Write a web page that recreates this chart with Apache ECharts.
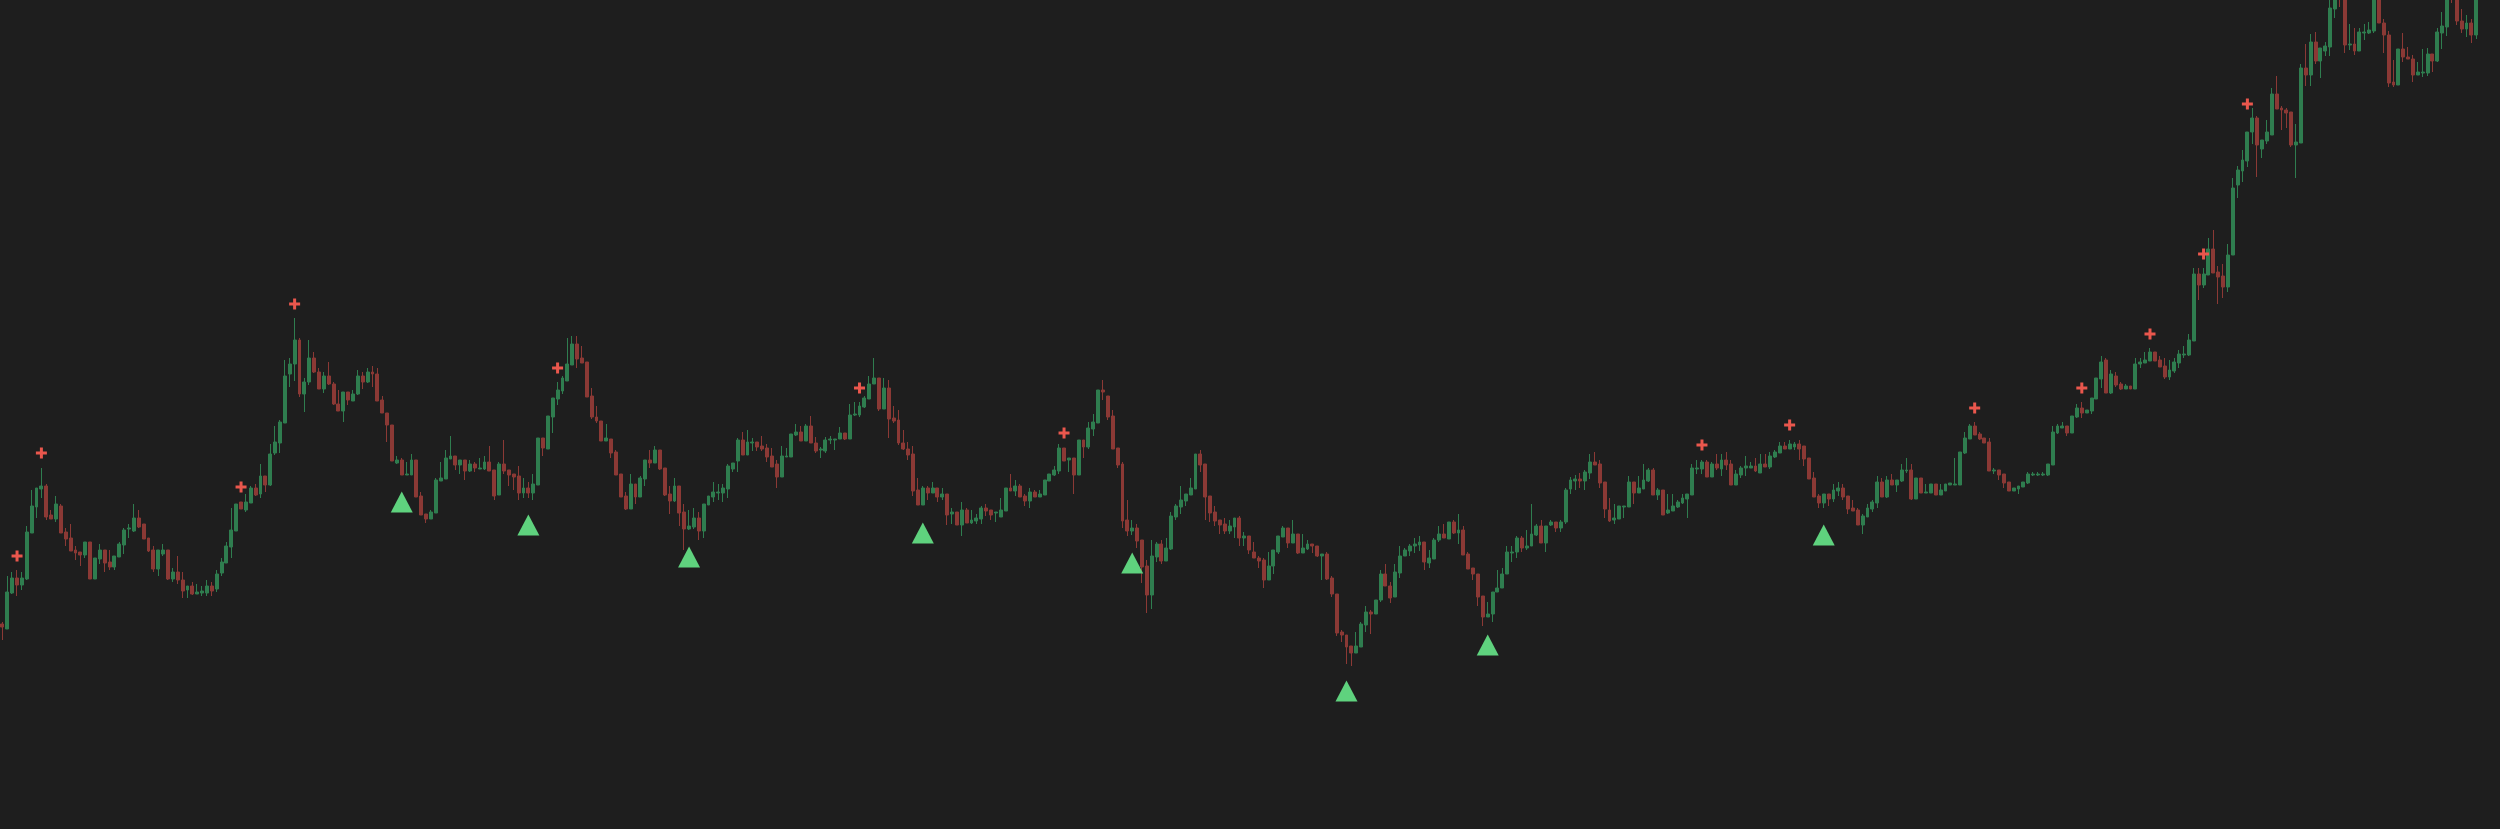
<!DOCTYPE html>
<html>
<head>
<meta charset="utf-8">
<style>html,body{margin:0;padding:0;background:#1e1e1e;}#c{width:2500px;height:829px;}</style>
<script src="https://cdn.jsdelivr.net/npm/echarts@6/dist/echarts.min.js"></script>
</head>
<body>
<div id="c"></div>
<script>
// OHLC rows: [open, close, low, high]
const candles = [
[205,202,189,207],[200,237,200,253],[236,251,235,257],[251,244,233,259],[244,251,239,257],[250,297,249,303],[296,323,296,339],[322,341,311,341],[340,343,331,361],[343,312,309,345],
[314,310,310,319],[310,325,307,333],[323,296,296,325],[297,290,283,301],[291,278,278,305],[279,276,269,283],[277,274,263,277],[274,287,271,287],[287,250,250,287],[250,271,250,271],
[270,279,265,285],[279,266,257,279],[267,262,259,279],[262,273,259,273],[272,285,272,287],[284,299,275,301],[300,301,291,305],[298,311,297,325],[311,302,301,319],[305,290,290,305],
[291,278,277,291],[279,260,257,283],[260,279,253,279],[275,279,273,285],[279,250,249,279],[250,257,247,261],[257,249,245,273],[249,238,231,257],[239,243,231,243],[243,235,234,247],
[235,237,235,245],[236,238,233,243],[236,243,233,249],[243,238,233,247],[240,255,237,259],[256,267,253,271],[266,283,266,287],[282,299,271,321],[298,325,298,325],[327,320,320,327],
[319,327,317,335],[326,341,326,343],[341,334,333,345],[335,353,331,365],[353,344,337,353],[344,375,343,385],[376,387,374,403],[386,407,376,409],[406,453,406,469],[455,465,442,471],
[465,489,448,511],[489,435,432,491],[435,447,417,451],[447,471,444,489],[471,457,456,477],[457,440,440,461],[440,453,436,457],[453,445,444,467],[445,425,424,447],[425,418,418,439],
[418,437,407,437],[437,429,424,437],[428,435,428,439],[435,453,434,459],[453,447,440,457],[447,457,446,461],[457,455,442,463],[455,428,428,461],[429,416,416,433],[416,404,387,416],
[404,368,368,404],[366,369,365,373],[369,354,354,371],[354,355,354,367],[354,369,354,375],[369,332,332,369],[333,314,314,337],[315,310,306,315],[310,317,310,319],[316,349,316,351],
[348,351,348,367],[350,371,350,379],[370,373,370,393],[373,364,359,373],[364,369,355,369],[369,358,349,369],[358,365,357,369],[365,361,357,367],[360,361,360,371],[360,367,359,373],
[367,358,358,383],[359,333,329,359],[334,365,334,367],[365,358,355,389],[359,354,343,359],[355,352,339,355],[353,336,329,363],[336,341,331,351],[341,336,331,347],[336,345,329,355],
[344,391,344,391],[391,381,373,391],[380,413,380,413],[412,431,396,431],[430,439,424,447],[438,451,435,453],[448,465,448,491],[464,485,464,493],[485,470,461,493],[471,466,466,483],
[467,432,432,467],[433,412,410,441],[412,408,406,423],[408,388,388,408],[388,391,388,405],[390,376,371,390],[377,354,354,379],[355,332,332,355],[333,320,319,337],[320,345,320,355],
[345,332,325,345],[332,351,332,353],[350,369,343,369],[369,366,361,379],[366,379,366,383],[379,360,359,379],[361,334,333,361],[335,328,315,343],[328,343,327,351],[343,316,303,343],
[317,300,279,325],[300,303,299,319],[302,311,300,321],[311,298,289,317],[298,325,291,325],[324,333,324,333],[332,337,327,347],[336,337,329,345],[336,341,327,345],[340,363,331,365],
[360,366,357,366],[368,389,357,391],[389,374,374,397],[374,387,374,399],[386,387,378,391],[387,382,378,387],[383,380,378,393],[381,372,367,385],[373,362,362,381],[365,352,341,369],
[352,373,352,383],[372,373,372,381],[372,395,372,395],[394,397,393,405],[397,388,388,403],[388,403,388,405],[403,386,386,413],[386,378,376,392],[379,380,371,382],[378,389,376,392],
[389,390,385,393],[389,390,379,390],[390,396,390,402],[396,390,389,396],[390,414,390,425],[414,415,413,427],[414,423,412,427],[422,431,421,433],[430,445,430,453],[445,451,445,471],
[451,420,418,451],[420,441,420,451],[441,410,391,449],[411,408,406,423],[409,386,384,419],[386,380,379,399],[380,374,369,387],[375,338,333,383],[339,324,324,351],[324,341,324,343],
[341,336,329,343],[336,341,336,347],[341,332,327,341],[332,335,329,341],[335,314,304,335],[315,317,305,321],[317,304,304,317],[304,319,293,327],[319,306,306,321],[306,309,305,319],
[308,311,305,315],[310,321,305,323],[321,318,313,325],[319,314,309,319],[316,317,307,317],[312,319,312,331],[318,341,318,341],[341,338,338,355],[338,343,333,349],[343,332,332,345],
[333,328,323,335],[328,337,321,341],[337,332,332,339],[332,335,332,339],[334,349,334,349],[348,355,348,355],[354,359,353,363],[358,381,355,385],[381,368,368,381],[369,371,357,371],
[371,354,335,371],[354,389,354,389],[389,382,371,389],[382,401,380,407],[400,407,393,415],[406,439,406,439],[439,437,429,449],[433,412,409,433],[413,380,380,419],[381,364,361,381],
[365,308,301,367],[309,298,293,329],[298,301,294,309],[301,288,281,305],[289,262,246,289],[263,234,216,269],[234,273,220,289],[272,285,267,287],[285,268,265,289],[268,281,268,291],
[280,313,279,317],[312,323,309,325],[322,329,315,343],[328,335,323,335],[334,341,334,351],[340,375,340,375],[375,364,357,379],[365,332,309,365],[333,316,307,333],[317,308,303,323],
[309,304,295,309],[305,298,295,311],[298,303,295,309],[302,311,291,311],[311,291,283,313],[291,293,283,297],[293,279,275,293],[277,271,271,287],[271,268,261,273],[269,249,241,271],
[249,263,249,277],[263,279,255,279],[277,293,275,293],[292,301,292,303],[301,286,281,301],[286,295,286,309],[295,276,275,295],[276,281,276,295],[280,285,279,289],[285,283,276,285],
[283,273,272,283],[273,275,249,275],[275,250,249,277],[251,235,232,253],[235,196,193,235],[197,194,187,199],[194,182,165,194],[183,176,163,183],[176,183,176,197],[182,205,182,207],
[204,217,197,223],[217,215,195,219],[215,229,215,229],[229,255,227,259],[255,243,243,265],[243,231,226,247],[232,257,232,265],[256,273,251,283],[273,279,273,281],[278,283,273,285],
[283,285,276,291],[284,287,278,293],[287,267,259,287],[266,271,261,279],[270,289,270,291],[289,295,287,303],[295,291,291,305],[290,307,290,307],[307,296,295,309],[296,299,285,315],
[299,274,274,303],[275,260,260,277],[261,255,249,261],[255,232,223,255],[233,212,203,233],[212,215,212,227],[215,237,207,237],[237,241,237,259],[241,255,241,261],[255,277,255,283],
[276,277,267,283],[277,291,271,293],[291,281,277,293],[281,283,279,299],[283,295,283,325],[294,303,293,305],[303,286,286,309],[286,303,277,303],[304,307,303,309],[307,301,297,307],
[301,307,297,309],[307,339,305,341],[340,349,335,352],[348,350,339,354],[350,348,341,356],[348,357,339,359],[356,367,350,375],[367,364,364,377],[365,346,341,369],[347,320,311,347],
[319,308,307,331],[309,311,305,325],[310,323,310,323],[322,323,311,323],[322,347,322,353],[347,336,325,347],[336,341,336,353],[340,349,340,365],[348,359,347,361],[359,334,334,361],
[334,339,329,341],[339,314,314,339],[316,319,315,335],[318,323,318,335],[322,327,321,329],[326,331,325,335],[330,335,311,335],[334,361,334,365],[360,361,355,369],[360,367,355,369],
[367,352,352,369],[352,365,352,367],[365,361,359,375],[360,369,353,375],[369,364,359,377],[365,344,344,369],[344,355,344,359],[354,361,351,363],[361,363,353,373],[361,363,361,367],
[363,358,357,371],[356,365,356,375],[365,362,362,375],[362,373,360,377],[372,377,371,379],[376,383,376,387],[383,380,380,387],[380,385,380,389],[382,385,379,387],[385,380,369,389],
[383,370,363,383],[371,350,350,371],[351,332,332,357],[333,326,321,335],[326,335,321,335],[335,330,323,335],[330,339,327,345],[338,341,333,347],[341,332,329,345],[333,320,315,333],
[321,318,318,329],[319,304,304,321],[304,313,295,315],[312,321,312,325],[320,327,317,329],[326,347,321,353],[347,332,332,351],[332,349,331,353],[349,344,344,355],[344,349,337,349],
[348,359,347,365],[358,359,356,371],[359,330,329,365],[330,351,330,351],[351,336,336,351],[336,337,336,345],[336,345,336,345],[345,334,334,345],[334,339,334,345],[338,345,338,345],
[344,346,344,346],[344,345,344,371],[344,377,344,377],[376,391,375,397],[390,403,390,405],[403,394,394,407],[395,390,389,397],[391,386,386,391],[387,358,358,391],[358,359,355,361],
[359,354,349,359],[355,346,341,355],[347,338,338,347],[338,341,338,341],[340,343,335,343],[342,347,342,347],[346,355,345,357],[354,355,353,357],[354,355,353,357],[354,355,353,357],
[354,365,353,365],[364,397,364,403],[396,403,395,405],[401,403,401,407],[403,396,393,403],[396,413,396,413],[412,421,411,425],[421,416,411,427],[416,419,416,419],[418,431,415,431],
[430,451,430,451],[450,467,441,473],[469,436,436,471],[436,455,435,459],[453,444,442,457],[445,440,439,447],[440,443,440,445],[443,440,440,443],[440,465,440,471],[465,467,461,471],
[466,469,466,477],[468,477,468,481],[477,468,468,477],[469,462,462,473],[463,452,450,471],[452,459,449,469],[458,467,456,471],[466,475,461,479],[474,475,471,483],[474,489,473,495],
[488,555,488,561],[555,544,529,561],[544,555,541,561],[554,580,554,591],[580,556,556,599],[557,552,525,563],[553,542,531,565],[542,574,537,585],[574,641,574,651],[644,659,631,663],
[658,669,647,679],[668,697,662,697],[697,711,685,721],[711,684,652,713],[680,689,671,689],[688,697,685,709],[694,735,694,741],[735,720,720,753],[721,719,699,723],[719,716,701,721],
[717,684,682,717],[684,687,651,705],[686,761,686,765],[761,754,743,785],[754,787,743,795],[787,768,765,797],[768,781,751,781],[778,783,773,787],[782,821,773,835],[820,836,811,846],
[842,830,822,850],[835,784,776,845],[784,785,779,805],[785,778,774,801],[778,797,778,801],[796,797,789,805],[796,799,795,807],[798,840,796,850],[840,806,806,850],[806,794,776,810],
[794,746,742,798],[747,744,742,769],[744,780,744,780],[780,772,767,796],[772,770,770,782],[770,754,747,774],[754,757,754,767],[756,757,752,780],[756,775,753,781],[775,768,757,775],
[768,797,767,801],[796,803,780,817],[802,838,793,848],[842,832,826,848],[835,808,804,840],[808,800,796,820],[800,806,792,814],[806,794,786,810],[794,835,790,845]
];
const categories = candles.map((_, i) => String(i));

// buy signals (green triangles) and sell signals (red plus marks)
const buyIdx = [82, 108, 141, 189, 232, 276, 305, 374];
const buyVal = [327, 304, 272, 296, 266, 138, 184, 294];
const sellIdx = [3, 8, 49, 60, 114, 176, 218, 349, 367, 405, 427, 441, 452, 461];
const sellVal = [273, 376, 342, 525, 461, 441, 396, 384, 404, 421, 441, 495, 575, 725];

const yMin = 0, yMax = 829;

const chart = echarts.init(document.getElementById('c'), null, {renderer: 'canvas'});
chart.setOption({
  backgroundColor: '#1e1e1e',
  animation: false,
  grid: {left: -1.1, right: 21.3, top: 0, bottom: 0},
  xAxis: {type: 'category', data: categories, boundaryGap: true, show: false},
  yAxis: {type: 'value', min: yMin, max: yMax, show: false, splitLine: {show: false}},
  series: [
    {
      type: 'candlestick',
      data: candles,
      barWidth: 3.4,
      clip: true,
      itemStyle: {
        color: '#2f7d4f', color0: '#8b3935',
        borderColor: '#2f7d4f', borderColor0: '#8b3935', borderWidth: 1
      }
    },
    {
      type: 'scatter',
      data: buyIdx.map((x, k) => [String(x), buyVal[k]]),
      symbol: 'triangle',
      symbolSize: [22, 21],
      itemStyle: {color: '#5fd27e', opacity: 1},
      z: 5
    },
    {
      type: 'scatter',
      data: sellIdx.map((x, k) => [String(x), sellVal[k]]),
      symbol: 'path://M0,4H4V0H7V4H11V7H7V11H4V7H0Z',
      symbolSize: [11, 11],
      itemStyle: {color: '#ea574d', opacity: 1},
      z: 5
    }
  ]
});
</script>
</body>
</html>
